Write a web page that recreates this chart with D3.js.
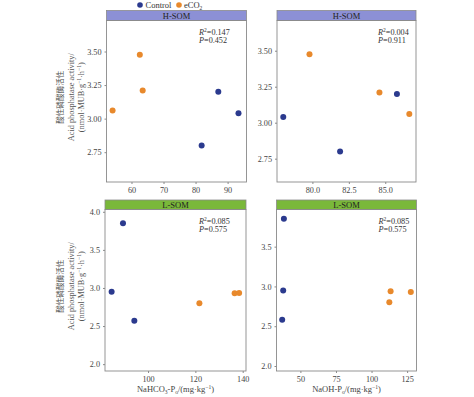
<!DOCTYPE html>
<html><head><meta charset="utf-8">
<script src="https://cdn.jsdelivr.net/npm/d3@7"></script>
<style>body{margin:0;background:#fff}svg{display:block}text{font-family:"Liberation Serif","Times New Roman",serif}</style>
</head><body>
<svg id="c" width="474" height="397"></svg>
<script>
// ---- data ----
const groups = ["Control", "eCO2"];
const panelNames = ["H-SOM (NaHCO3)", "H-SOM (NaOH)", "L-SOM (NaHCO3)", "L-SOM (NaOH)"];
const stripLabels = ["H-SOM", "H-SOM", "L-SOM", "L-SOM"];
// x = Po fraction, y = acid phosphatase activity
const hNaHCO3Control = [[81.9, 2.80], [87.1, 3.20], [93.4, 3.04]];
const hNaHCO3eCO2   = [[54.1, 3.06], [62.6, 3.475], [63.5, 3.21]];
const hNaOHControl  = [[78.0, 3.04], [81.9, 2.80], [85.8, 3.20]];
const hNaOHeCO2     = [[79.8, 3.475], [84.6, 3.21], [86.65, 3.06]];
const lNaHCO3Control = [[84.6, 2.95], [89.4, 3.85], [94.2, 2.57]];
const lNaHCO3eCO2   = [[121.7, 2.80], [136.6, 2.93], [138.5, 2.935]];
const lNaOHControl  = [[38.4, 3.85], [37.9, 2.95], [37.2, 2.58]];
const lNaOHeCO2     = [[112.5, 2.80], [113.4, 2.94], [127.6, 2.93]];
const r2Values = ["0.147", "0.004", "0.085", "0.085"];
const pValues  = ["0.452", "0.911", "0.575", "0.575"];
const xTicksAll = [[60, 70, 80, 90], [80, 82.5, 85], [100, 120, 140], [50, 75, 100, 125]];
const yTicksAll = [[2.75, 3.00, 3.25, 3.50], [2.75, 3.00, 3.25, 3.50], [2.0, 2.5, 3.0, 3.5, 4.0], [2.0, 2.5, 3.0, 3.5]];
const xDomains = [[52.2, 95.9], [77.57, 87.11], [81.8, 141.4], [33.2, 131.6]];
const yDomains = [[2.528, 3.731], [2.588, 3.71], [1.91, 4.03], [1.937, 3.967]];

// ---- layout ----
const colors = {Control: "#2b3a8e", eCO2: "#e8892c"};
const stripColors = {"H-SOM": "#8c90d5", "L-SOM": "#7ab83a"};
const layout = [
  {x0: 106.5, x1: 246.5, s0: 10.5, y0: 20.5, y1: 182, xf: d3.format("d"), yf: d3.format(".2f"), statDx: 47.5},
  {x0: 277, x1: 416, s0: 10.5, y0: 20.5, y1: 182, xf: d3.format(".1f"), yf: d3.format(".2f"), statDx: 38},
  {x0: 105, x1: 246, s0: 200, y0: 209.5, y1: 371, xf: d3.format("d"), yf: d3.format(".1f"), statDx: 47},
  {x0: 276.5, x1: 416.5, s0: 200, y0: 209.5, y1: 371, xf: d3.format("d"), yf: d3.format(".1f"), statDx: 38}
];
const seriesAll = [
  [hNaHCO3Control, hNaHCO3eCO2], [hNaOHControl, hNaOHeCO2],
  [lNaHCO3Control, lNaHCO3eCO2], [lNaOHControl, lNaOHeCO2]
];

const svg = d3.select("#c");
const frame = "#8a8a8a";
const txt = "#444444";

layout.forEach((L, i) => {
  const x = d3.scaleLinear().domain(xDomains[i]).range([L.x0, L.x1]);
  const y = d3.scaleLinear().domain(yDomains[i]).range([L.y1, L.y0]);
  const g = svg.append("g");
  // strip
  g.append("rect").attr("x", L.x0).attr("y", L.s0).attr("width", L.x1 - L.x0).attr("height", L.y0 - L.s0)
    .attr("fill", stripColors[stripLabels[i]]).attr("stroke", frame).attr("stroke-width", 0.8);
  g.append("text").attr("x", (L.x0 + L.x1) / 2).attr("y", (L.s0 + L.y0) / 2 + 3)
    .attr("text-anchor", "middle").attr("font-size", 8.5).attr("fill", "#222").text(stripLabels[i]);
  // axes
  const xa = g.append("g").attr("transform", `translate(0,${L.y1})`)
    .call(d3.axisBottom(x).tickValues(xTicksAll[i]).tickFormat(L.xf).tickSize(2).tickPadding(3));
  const ya = g.append("g").attr("transform", `translate(${L.x0},0)`)
    .call(d3.axisLeft(y).tickValues(yTicksAll[i]).tickFormat(L.yf).tickSize(2).tickPadding(3));
  [xa, ya].forEach(a => {
    a.attr("font-family", "Liberation Serif").attr("font-size", 8.2);
    a.select(".domain").remove();
    a.selectAll("line").attr("stroke", frame);
    a.selectAll("text").attr("fill", txt);
  });
  // frame
  g.append("rect").attr("x", L.x0).attr("y", L.y0).attr("width", L.x1 - L.x0).attr("height", L.y1 - L.y0)
    .attr("fill", "none").attr("stroke", frame).attr("stroke-width", 0.9);
  // points
  groups.forEach((grp, k) => {
    g.selectAll(null).data(seriesAll[i][k]).enter().append("circle")
      .attr("cx", d => x(d[0])).attr("cy", d => y(d[1])).attr("r", 3)
      .attr("fill", colors[grp]);
  });
  // stats
  const sx = L.x1 - L.statDx;
  const t1 = g.append("text").attr("x", sx).attr("y", L.y0 + 14).attr("font-size", 8.2).attr("fill", "#333");
  t1.append("tspan").attr("font-style", "italic").text("R");
  t1.append("tspan").attr("font-size", 5.5).attr("dy", -3).text("2");
  t1.append("tspan").attr("dy", 3).text("=" + r2Values[i]);
  const t2 = g.append("text").attr("x", sx).attr("y", L.y0 + 22.5).attr("font-size", 8.2).attr("fill", "#333");
  t2.append("tspan").attr("font-style", "italic").text("P");
  t2.append("tspan").text("=" + pValues[i]);
  // y label on left panels
  if (i % 2 === 0) {
    const cy = (L.y0 + L.y1) / 2 - 4;
    const lines = [
      {dx: 60, t: "酸性磷酸酶活性", f: "'Noto Sans CJK SC'"},
      {dx: 71, t: "Acid phosphatase activity/"},
      {dx: 81, t: null}
    ];
    lines.forEach(l => {
      const tx = svg.append("text").attr("transform", `translate(${l.dx},${cy}) rotate(-90)`)
        .attr("text-anchor", "middle").attr("dy", "0.35em").attr("font-size", 8.3).attr("fill", "#555");
      if (l.f) tx.style("font-family", l.f).attr("font-size", 7.6);
      if (l.t) tx.text(l.t);
      else {
        tx.append("tspan").text("(nmol·MUB·g");
        tx.append("tspan").attr("font-size", 5.5).attr("dy", -3).text("−1");
        tx.append("tspan").attr("dy", 3).text("·h");
        tx.append("tspan").attr("font-size", 5.5).attr("dy", -3).text("−1");
        tx.append("tspan").attr("dy", 3).text(")");
      }
    });
  }
});

// x labels
const xLabelDefs = [
  {i: 2, pre: "NaHCO", sub1: "3", mid: "-P"},
  {i: 3, pre: "NaOH", sub1: null, mid: "-P"}
];
xLabelDefs.forEach(d => {
  const L = layout[d.i];
  const t = svg.append("text").attr("x", (L.x0 + L.x1) / 2).attr("y", 392).attr("text-anchor", "middle")
    .attr("font-size", 8.5).attr("fill", txt);
  t.append("tspan").text(d.pre);
  if (d.sub1) { t.append("tspan").attr("font-size", 5.5).attr("dy", 2).text(d.sub1); t.append("tspan").attr("dy", -2).text(d.mid); }
  else t.append("tspan").text(d.mid);
  t.append("tspan").attr("font-size", 5.5).attr("dy", 2).text("o");
  t.append("tspan").attr("dy", -2).text("/(mg·kg");
  t.append("tspan").attr("font-size", 5.5).attr("dy", -3).text("−1");
  t.append("tspan").attr("dy", 3).text(")");
});

// legend
const legend = svg.append("g");
const legItems = [{g: "Control", cx: 140, tx: 145.5}, {g: "eCO2", cx: 179, tx: 184}];
legItems.forEach(it => {
  legend.append("circle").attr("cx", it.cx).attr("cy", 5).attr("r", 2.8).attr("fill", colors[it.g]);
  const t = legend.append("text").attr("x", it.tx).attr("y", 8).attr("font-size", 8.5).attr("fill", "#333");
  if (it.g === "eCO2") {
    t.append("tspan").text("eCO");
    t.append("tspan").attr("font-size", 5.5).attr("dy", 2).text("2");
  } else t.text(it.g);
});
</script>
</body></html>
